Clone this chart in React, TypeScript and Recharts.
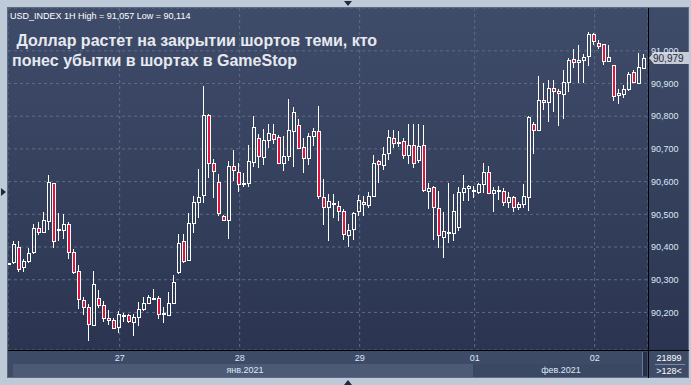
import { ComposedChart, Bar, XAxis, YAxis, CartesianGrid, ReferenceLine } from "recharts";

// USD_INDEX 1H candles, Jan 26 - Feb 02 2021
const opens = [
  90347, 90355, 90400, 90340, 90358, 90384, 90457, 90445, 90481, 90595,
  90452, 90453, 90470, 90386, 90326, 90238, 90218, 90162, 90245, 90223,
  90184, 90178, 90154, 90190, 90193, 90171, 90187, 90211, 90228, 90242,
  90245, 90195, 90193, 90228, 90325, 90418, 90360, 90473, 90538, 90558,
  90803, 90658, 90598, 90495, 90483, 90647, 90630, 90594, 90595, 90660,
  90732, 90674, 90726, 90747, 90735, 90658, 90677, 90756, 90772, 90705,
  90673, 90738, 90756, 90552, 90522, 90535, 90524, 90510, 90437, 90455,
  90510, 90538, 90529, 90556, 90662, 90651, 90687, 90734, 90720, 90723,
  90680, 90711, 90665, 90711, 90571, 90585, 90519, 90430, 90447, 90442,
  90460, 90569, 90582, 90571, 90569, 90592, 90630, 90566, 90573, 90572,
  90539, 90554, 90523, 90531, 90554, 90777, 90757, 90849, 90843, 90885,
  90877, 90867, 90906, 90974, 90965, 90971, 90985, 91053, 91025, 91020,
  90970, 90956, 90864, 90868, 90882, 90934, 90903, 90949,
];
const highs = [
  90352, 90418, 90418, 90363, 90398, 90470, 90476, 90508, 90620, 90597,
  90503, 90500, 90476, 90395, 90346, 90246, 90225, 90327, 90270, 90236,
  90208, 90184, 90203, 90198, 90196, 90196, 90233, 90246, 90253, 90273,
  90251, 90218, 90263, 90313, 90440, 90440, 90503, 90556, 90638, 90893,
  90808, 90670, 90623, 90497, 90663, 90696, 90658, 90625, 90712, 90800,
  90746, 90760, 90775, 90775, 90742, 90739, 90854, 90827, 90790, 90734,
  90749, 90763, 90832, 90608, 90562, 90562, 90542, 90516, 90471, 90506,
  90560, 90557, 90569, 90682, 90665, 90706, 90757, 90757, 90754, 90734,
  90775, 90775, 90775, 90773, 90597, 90587, 90571, 90506, 90597, 90561,
  90585, 90619, 90590, 90587, 90597, 90657, 90648, 90585, 90587, 90582,
  90568, 90557, 90539, 90592, 90802, 90782, 90924, 90903, 90911, 90911,
  90883, 90941, 90977, 91005, 91017, 90990, 91057, 91055, 91032, 91022,
  91017, 90958, 90882, 90896, 90934, 90941, 90994, 90990,
];
const lows = [
  90344, 90348, 90323, 90325, 90351, 90378, 90438, 90445, 90453, 90396,
  90418, 90423, 90363, 90318, 90211, 90191, 90114, 90160, 90213, 90170,
  90160, 90150, 90138, 90171, 90168, 90128, 90158, 90205, 90225, 90238,
  90180, 90168, 90193, 90228, 90318, 90352, 90356, 90443, 90490, 90536,
  90612, 90550, 90496, 90481, 90425, 90602, 90567, 90585, 90584, 90645,
  90643, 90651, 90704, 90714, 90653, 90633, 90663, 90646, 90701, 90625,
  90651, 90709, 90547, 90466, 90418, 90488, 90481, 90420, 90400, 90420,
  90496, 90496, 90519, 90556, 90597, 90636, 90666, 90704, 90707, 90668,
  90653, 90643, 90658, 90567, 90516, 90421, 90396, 90366, 90411, 90417,
  90450, 90541, 90541, 90551, 90563, 90566, 90564, 90506, 90543, 90526,
  90519, 90506, 90513, 90519, 90509, 90683, 90755, 90820, 90781, 90812,
  90769, 90791, 90875, 90946, 90903, 90903, 90953, 91019, 91005, 90956,
  90968, 90848, 90837, 90857, 90878, 90903, 90901, 90949,
];
const closes = [
  90350, 90410, 90333, 90356, 90382, 90457, 90445, 90484, 90598, 90418,
  90454, 90470, 90385, 90325, 90241, 90218, 90166, 90286, 90222, 90184,
  90177, 90151, 90196, 90192, 90174, 90185, 90211, 90230, 90248, 90244,
  90196, 90197, 90229, 90293, 90413, 90358, 90473, 90538, 90553, 90803,
  90658, 90631, 90505, 90483, 90647, 90637, 90592, 90596, 90662, 90766,
  90677, 90726, 90750, 90729, 90656, 90677, 90759, 90813, 90704, 90671,
  90738, 90756, 90556, 90522, 90541, 90536, 90510, 90440, 90453, 90504,
  90544, 90532, 90556, 90656, 90655, 90683, 90735, 90719, 90722, 90682,
  90712, 90656, 90710, 90574, 90580, 90521, 90437, 90448, 90442, 90511,
  90569, 90581, 90588, 90573, 90594, 90630, 90566, 90575, 90575, 90539,
  90554, 90521, 90532, 90557, 90797, 90758, 90849, 90843, 90885, 90877,
  90870, 90904, 90971, 90966, 90971, 90982, 91053, 91029, 91016, 90970,
  90980, 90863, 90872, 90882, 90928, 90906, 90952, 90979,
];

const dayTicks = [22, 46, 70, 93, 117];
const dayLabels = ["27", "28", "29", "01", "02"];
const priceTicks = [90200, 90300, 90400, 90500, 90600, 90700, 90800, 90900, 91000];

const data = opens.map((open, i) => ({
  i,
  open,
  high: highs[i],
  low: lows[i],
  close: closes[i],
  range: [lows[i], highs[i]],
}));

const lastClose = closes[closes.length - 1];

const fmtPrice = (v: number) => `${Math.floor(v / 1000)},${String(v % 1000).padStart(3, "0")}`;

const UP = "#ffffff";
const DOWN = "#E3123C";
const AXIS_TEXT = "#DCE8F7";

function Candle(props: any) {
  const { x, y, width, height, payload } = props;
  if (x == null || !payload) return null;
  const { open, close, high, low } = payload;
  const top = Math.min(y, y + height);
  const h = Math.abs(height);
  const k = h / (high - low || 1);
  const yOf = (v: number) => top + (high - v) * k;
  const cx = Math.round(x + width / 2);
  const bTop = Math.round(yOf(Math.max(open, close)));
  const bBot = Math.max(Math.round(yOf(Math.min(open, close))), bTop + 1);
  const up = close >= open;
  return (
    <g>
      <line x1={cx - 0.5} x2={cx - 0.5} y1={Math.round(top)} y2={bTop} stroke={UP} strokeWidth={1} />
      <line x1={cx - 0.5} x2={cx - 0.5} y1={bBot + 1} y2={Math.round(top + h)} stroke={UP} strokeWidth={1} />
      <rect
        x={cx - 1.5}
        y={bTop + 0.5}
        width={3}
        height={bBot - bTop}
        fill={up ? "none" : DOWN}
        stroke={UP}
        strokeWidth={1}
      />
    </g>
  );
}

function PriceTag(props: any) {
  const vb = props.viewBox;
  if (!vb) return null;
  const left = vb.x + vb.width + 1;
  const cy = Math.round(vb.y);
  return (
    <g>
      <polygon
        points={`${left},${cy} ${left + 5},${cy - 6} ${left + 40},${cy - 6} ${left + 40},${cy + 6} ${left + 5},${cy + 6}`}
        fill="#C7CCD4"
      />
      <text x={left + 4} y={cy + 3.5} fontSize={10} fill="#1B2743">
        {fmtPrice(lastClose)}
      </text>
    </g>
  );
}

const abs = (left: number, top: number, width: number, height: number, extra: any = {}) => ({
  position: "absolute" as const,
  left,
  top,
  width,
  height,
  ...extra,
});

export default function App() {
  return (
    <div
      style={{
        position: "absolute",
        left: 0,
        top: 0,
        width: 691,
        height: 385,
        background: "#BFCAD9",
        fontFamily: "'Liberation Sans', Arial, sans-serif",
        overflow: "hidden",
      }}
    >
      {/* frame border + plot background */}
      <div style={abs(7, 7, 682, 371, { background: "#5D6B85" })} />
      <div style={abs(8, 8, 680, 342, { background: "linear-gradient(#3F4C69, #2B3551)" })} />
      <div style={abs(8, 351, 680, 26, { background: "#3E4B67" })} />
      <div style={abs(13, 364, 460, 13, { background: "#4D5A76" })} />
      <div style={abs(473, 364, 168, 13, { background: "#3B4864" })} />
      <div style={abs(642, 352, 4, 24, { background: "#27304A", borderLeft: "1px solid #6A7893" })} />

      <div style={{ position: "absolute", left: 0, top: 0 }}>
        <ComposedChart width={691} height={385} data={data} margin={{ top: 8, right: 3, bottom: 8, left: 8 }}>
          <CartesianGrid stroke="#5E6C88" strokeDasharray="3 3" />
          <XAxis
            dataKey="i"
            type="number"
            domain={[-0.334, 127.666]}
            allowDataOverflow
            ticks={dayTicks}
            tickFormatter={(v: number) => dayLabels[dayTicks.indexOf(v)] ?? ""}
            tick={{ fill: AXIS_TEXT, fontSize: 9 }}
            tickLine={false}
            axisLine={false}
            tickSize={0}
            tickMargin={5}
            height={27}
          />
          <YAxis
            orientation="right"
            domain={[90085, 91131]}
            allowDataOverflow
            ticks={priceTicks}
            tickFormatter={fmtPrice}
            tick={{ fill: AXIS_TEXT, fontSize: 9 }}
            tickLine={false}
            axisLine={false}
            tickSize={0}
            tickMargin={3}
            width={40}
          />
          <Bar dataKey="range" barSize={4} shape={(p: any) => <Candle {...p} />} isAnimationActive={false} />
          <ReferenceLine y={lastClose} stroke="none" label={<PriceTag />} />
        </ComposedChart>
      </div>

      {/* axis border lines */}
      <div style={abs(8, 350, 681, 1, { background: "#000" })} />
      <div style={abs(648, 8, 1, 370, { background: "#000" })} />

      {/* header texts */}
      <div style={abs(10, 10, 300, 12, { color: "#FFFFFF", fontSize: 9, lineHeight: "12px", whiteSpace: "nowrap" })}>
        USD_INDEX 1H High = 91,057 Low = 90,114
      </div>
      <div
        style={abs(12, 31, 480, 40, {
          color: "#E6E9EF",
          fontSize: 16,
          fontWeight: "bold",
          lineHeight: "20px",
          whiteSpace: "pre",
        })}
      >
        {" Доллар растет на закрытии шортов теми, кто\nпонес убытки в шортах в GameStop"}
      </div>

      {/* month row */}
      <div style={abs(205, 364, 80, 13, { color: AXIS_TEXT, fontSize: 9, lineHeight: "13px", textAlign: "center" })}>
        янв.2021
      </div>
      <div style={abs(521, 364, 80, 13, { color: AXIS_TEXT, fontSize: 9, lineHeight: "13px", textAlign: "center" })}>
        фев.2021
      </div>

      {/* bottom right counters */}
      <div style={abs(649, 352, 40, 12, { color: "#FFFFFF", fontSize: 9, lineHeight: "12px", textAlign: "center" })}>
        21899
      </div>
      <div style={abs(655, 364, 30, 1, { background: "#7D8BA4" })} />
      <div style={abs(649, 365, 40, 12, { color: "#FFFFFF", fontSize: 9, lineHeight: "12px", textAlign: "center" })}>
        {">128<"}
      </div>

      {/* frame arrows */}
      <div
        style={abs(344, 1, 0, 0, {
          borderLeft: "4px solid transparent",
          borderRight: "4px solid transparent",
          borderTop: "5px solid #1E2A40",
        })}
      />
      <div
        style={abs(344, 380, 0, 0, {
          borderLeft: "4px solid transparent",
          borderRight: "4px solid transparent",
          borderBottom: "5px solid #1E2A40",
        })}
      />
      <div
        style={abs(1, 188, 0, 0, {
          borderTop: "4px solid transparent",
          borderBottom: "4px solid transparent",
          borderLeft: "5px solid #1E2A40",
        })}
      />
    </div>
  );
}
